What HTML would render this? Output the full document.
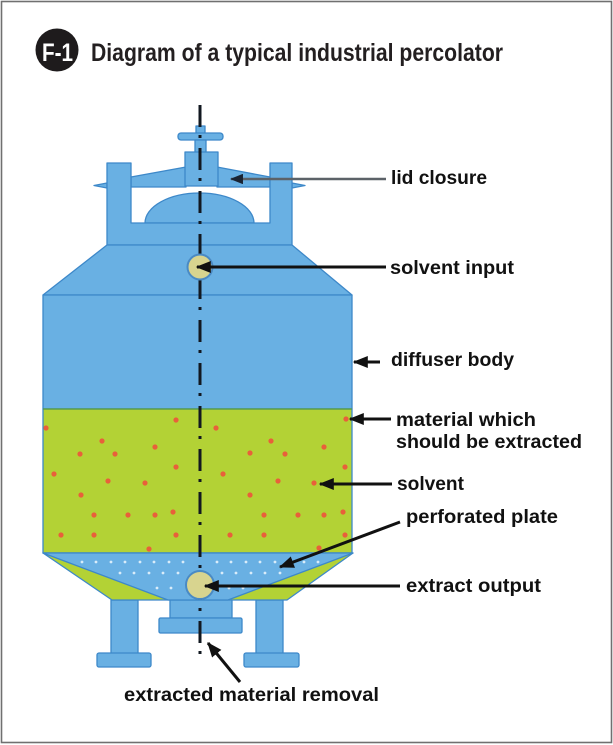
<!DOCTYPE html>
<html>
<head>
<meta charset="utf-8">
<style>
  html, body { margin: 0; padding: 0; background: #ffffff; }
  body { width: 613px; height: 745px; overflow: hidden; }
  svg { display: block; }
  .lbl { font-family: "Liberation Sans", "DejaVu Sans", sans-serif; font-weight: bold; font-size: 19px; fill: #111; }
  .ttl { font-family: "Liberation Sans Narrow", "Liberation Sans", sans-serif; font-weight: bold; font-size: 25px; fill: #231f20; }
</style>
</head>
<body>
<svg width="613" height="745" viewBox="0 0 613 745" xmlns="http://www.w3.org/2000/svg">
  <rect x="0" y="0" width="613" height="745" fill="#ffffff"/>
  <!-- frame -->
  <rect x="1.5" y="1.5" width="610" height="741" fill="none" stroke="#707070" stroke-width="1.6"/>

  <!-- title -->
  <circle cx="57" cy="50" r="21.5" fill="#1e1b1c"/>
  <text x="42" y="61" class="ttl" style="fill:#ffffff" textLength="31" lengthAdjust="spacingAndGlyphs">F-1</text>
  <text x="91" y="61" class="ttl" textLength="412" lengthAdjust="spacingAndGlyphs">Diagram of a typical industrial percolator</text>

  <g stroke="#3d88c9" stroke-width="1.3" stroke-linejoin="round">
    <!-- knob -->
    <rect x="196" y="126" width="9" height="8" fill="#69b0e3"/>
    <rect x="178" y="133" width="45" height="7" rx="3" fill="#69b0e3"/>
    <rect x="195" y="140" width="11" height="13" fill="#69b0e3"/>
    <!-- lid plate -->
    <path d="M131,177 L186,167 L186,187 L131,187 Z" fill="#69b0e3"/>
    <path d="M217,167 L270,177 L270,187 L217,187 Z" fill="#69b0e3"/>
    <path d="M94,185.5 L107,183 L107,188 Z" fill="#69b0e3"/>
    <path d="M292,183 L305,185.5 L292,188 Z" fill="#69b0e3"/>
    <!-- neck -->
    <rect x="185" y="152" width="33" height="34" fill="#69b0e3"/>
    <!-- dome -->
    <path d="M145,223 A54.5 30 0 0 1 254,223 Z" fill="#69b0e3"/>
    <!-- U frame -->
    <path d="M107,163 H131 V223 H270 V163 H292 V245 H107 Z" fill="#69b0e3"/>
    <!-- upper cone -->
    <path d="M107,245 L292,245 L352,295 L43,295 Z" fill="#69b0e3"/>
    <!-- body -->
    <rect x="43" y="295" width="309" height="114" fill="#69b0e3"/>
    <rect x="43" y="409" width="309" height="144" fill="#b3d235"/>
    <!-- legs -->
    <rect x="111" y="600" width="27" height="54" fill="#69b0e3"/>
    <rect x="97" y="653" width="54" height="14" rx="2" fill="#69b0e3"/>
    <rect x="256" y="600" width="27" height="54" fill="#69b0e3"/>
    <rect x="244" y="653" width="55" height="14" rx="2" fill="#69b0e3"/>
    <!-- outlet -->
    <rect x="170" y="599" width="62" height="19" fill="#69b0e3"/>
    <rect x="159" y="618" width="83" height="15" rx="1.5" fill="#69b0e3"/>
    <!-- lower cone -->
    <path d="M43,553 L353,553 L287,600 L112,600 Z" fill="#b3d235"/>
    <path d="M43,553 L353,553 L228,600 L168,600 Z" fill="#69b0e3"/>
  </g>
  <line x1="43" y1="409" x2="352" y2="409" stroke="#5a9e3a" stroke-width="1.2"/>

  <!-- red dots -->
  <g fill="#e8603a">
    <circle cx="176" cy="420" r="2.6"/><circle cx="46" cy="428" r="2.6"/><circle cx="216" cy="428" r="2.6"/>
    <circle cx="346" cy="419" r="2.6"/><circle cx="102" cy="441" r="2.6"/><circle cx="271" cy="441" r="2.6"/>
    <circle cx="155" cy="447" r="2.6"/><circle cx="324" cy="447" r="2.6"/><circle cx="80" cy="454" r="2.6"/>
    <circle cx="115" cy="454" r="2.6"/><circle cx="250" cy="453" r="2.6"/><circle cx="285" cy="454" r="2.6"/>
    <circle cx="176" cy="467" r="2.6"/><circle cx="345" cy="467" r="2.6"/><circle cx="54" cy="474" r="2.6"/>
    <circle cx="223" cy="474" r="2.6"/><circle cx="108" cy="481" r="2.6"/><circle cx="145" cy="483" r="2.6"/>
    <circle cx="278" cy="481" r="2.6"/><circle cx="314" cy="483" r="2.6"/><circle cx="81" cy="495" r="2.6"/>
    <circle cx="250" cy="495" r="2.6"/><circle cx="94" cy="515" r="2.6"/><circle cx="128" cy="515" r="2.6"/>
    <circle cx="155" cy="515" r="2.6"/><circle cx="173" cy="512" r="2.6"/><circle cx="264" cy="515" r="2.6"/>
    <circle cx="298" cy="515" r="2.6"/><circle cx="324" cy="515" r="2.6"/><circle cx="343" cy="512" r="2.6"/>
    <circle cx="61" cy="535" r="2.6"/><circle cx="94" cy="535" r="2.6"/><circle cx="176" cy="535" r="2.6"/>
    <circle cx="230" cy="535" r="2.6"/><circle cx="264" cy="535" r="2.6"/><circle cx="345" cy="535" r="2.6"/>
    <circle cx="149" cy="549" r="2.6"/><circle cx="319" cy="548" r="2.6"/>
  </g>

  <!-- perforation dots -->
  <g fill="#e6f3fc" opacity="0.9">
    <circle cx="82" cy="562" r="1.4"/><circle cx="96" cy="562" r="1.4"/><circle cx="111" cy="562" r="1.4"/>
    <circle cx="125" cy="562" r="1.4"/><circle cx="140" cy="562" r="1.4"/><circle cx="154" cy="562" r="1.4"/>
    <circle cx="169" cy="562" r="1.4"/><circle cx="183" cy="562" r="1.4"/><circle cx="217" cy="562" r="1.4"/>
    <circle cx="231" cy="562" r="1.4"/><circle cx="246" cy="562" r="1.4"/><circle cx="260" cy="562" r="1.4"/>
    <circle cx="275" cy="562" r="1.4"/><circle cx="289" cy="562" r="1.4"/><circle cx="304" cy="562" r="1.4"/>
    <circle cx="318" cy="562" r="1.4"/>
    <circle cx="120" cy="573" r="1.4"/><circle cx="134" cy="573" r="1.4"/><circle cx="149" cy="573" r="1.4"/>
    <circle cx="163" cy="573" r="1.4"/><circle cx="178" cy="573" r="1.4"/><circle cx="222" cy="573" r="1.4"/>
    <circle cx="236" cy="573" r="1.4"/><circle cx="251" cy="573" r="1.4"/><circle cx="265" cy="573" r="1.4"/>
    <circle cx="280" cy="573" r="1.4"/>
    <circle cx="157" cy="588" r="1.4"/><circle cx="171" cy="588" r="1.4"/><circle cx="229" cy="588" r="1.4"/>
    <circle cx="243" cy="588" r="1.4"/>
  </g>

  <!-- axis dash-dot -->
  <line x1="200" y1="105" x2="200" y2="656" stroke="#121820" stroke-width="3" stroke-dasharray="22 8 3 10"/>

  <!-- valves -->
  <circle cx="200" cy="267" r="12.5" fill="#d8d48f" stroke="#4a8ac4" stroke-width="2"/>
  <circle cx="200" cy="585" r="14" fill="#d8d48f" stroke="#4a8ac4" stroke-width="2"/>

  <!-- arrows -->
  <defs>
    <marker id="ah" markerWidth="5" markerHeight="4" refX="4.6" refY="2" orient="auto" markerUnits="strokeWidth">
      <path d="M0,0 L5,2 L0,4 Z" fill="#111"/>
    </marker>
    <marker id="ahg" markerWidth="5" markerHeight="4" refX="4.6" refY="2" orient="auto" markerUnits="strokeWidth">
      <path d="M0,0 L5,2 L0,4 Z" fill="#1a2433"/>
    </marker>
  </defs>
  <g stroke="#111" stroke-width="3" fill="none">
    <line x1="386" y1="179" x2="231" y2="179" stroke="#5c6268" stroke-width="2.6" marker-end="url(#ahg)"/>
    <line x1="386" y1="267" x2="197" y2="267" marker-end="url(#ah)"/>
    <line x1="380" y1="362" x2="354" y2="362" marker-end="url(#ah)"/>
    <line x1="391" y1="419" x2="350" y2="419" marker-end="url(#ah)"/>
    <line x1="392" y1="484" x2="320" y2="484" marker-end="url(#ah)"/>
    <line x1="400" y1="522" x2="280" y2="567" marker-end="url(#ah)"/>
    <line x1="400" y1="586" x2="205" y2="586" marker-end="url(#ah)"/>
    <line x1="240" y1="682" x2="208" y2="643" marker-end="url(#ah)"/>
  </g>

  <!-- labels -->
  <text class="lbl" x="391" y="184" textLength="96" lengthAdjust="spacingAndGlyphs">lid closure</text>
  <text class="lbl" x="390" y="274" textLength="124" lengthAdjust="spacingAndGlyphs">solvent input</text>
  <text class="lbl" x="391" y="366" textLength="123" lengthAdjust="spacingAndGlyphs">diffuser body</text>
  <text class="lbl" x="396" y="426" textLength="140" lengthAdjust="spacingAndGlyphs">material which</text>
  <text class="lbl" x="396" y="448" textLength="186" lengthAdjust="spacingAndGlyphs">should be extracted</text>
  <text class="lbl" x="397" y="490" textLength="67" lengthAdjust="spacingAndGlyphs">solvent</text>
  <text class="lbl" x="406" y="523" textLength="152" lengthAdjust="spacingAndGlyphs">perforated plate</text>
  <text class="lbl" x="406" y="592" textLength="135" lengthAdjust="spacingAndGlyphs">extract output</text>
  <text class="lbl" x="124" y="701" textLength="255" lengthAdjust="spacingAndGlyphs">extracted material removal</text>
</svg>
</body>
</html>
